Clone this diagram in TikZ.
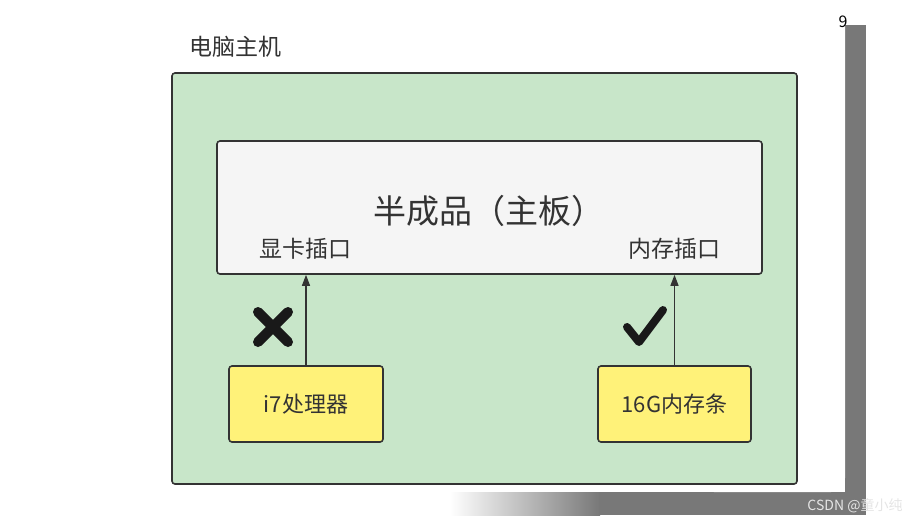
\documentclass[tikz,border=0pt]{standalone}
\usepackage{fontspec}
\setmainfont{Noto Sans CJK SC}
\usetikzlibrary{arrows.meta}
\begin{document}
\begin{tikzpicture}[x=1pt,y=-1pt,
  box/.style={draw=black!80,line width=1.6pt,rounded corners=3pt},
  lbl/.style={font=\fontsize{23}{26}\selectfont,text=black!80},
  conn/.style={draw=black!80,line width=1.3pt,-{Triangle[length=11pt,width=8pt]}}]
\useasboundingbox (0,0) rectangle (919,523);
\fill[white] (0,0) rectangle (919,523);
% shadow
\fill[black!53] (845,25) rectangle (866,515);
\shade[left color=white,right color=black!53] (450,492) rectangle (600,515);
\fill[black!53] (599,492) rectangle (866,515);
\fill[white,rounded corners=14pt] (700,0) rectangle (845,492);
\node[font=\fontsize{16}{18}\selectfont\rmfamily] (nine) at (843,22) {9};
\node[font=\fontsize{14}{16}\selectfont,text=white!90!black] (csdn) at (855,506) {CSDN @童小纯};
% main
\node[lbl,anchor=west] (host) at (186,47) {电脑主机};
\node[box,fill={rgb,255:red,200;green,230;blue,201},minimum width=625pt,minimum height=411pt] (main) at (484.5,278.5) {};
\node[box,fill={rgb,255:red,245;green,245;blue,245},minimum width=545pt,minimum height=133pt] (board) at (489.5,207.5) {};
\node[font=\fontsize{33}{38}\selectfont,text=black!80] (title) at (489,211) {半成品（主板）};
\node[lbl] (gpu) at (305,249) {显卡插口};
\node[lbl] (mem) at (674,249) {内存插口};
\node[box,fill={rgb,255:red,255;green,242;blue,121},minimum width=154pt,minimum height=76pt] (cpu) at (306,404) {};
\node[lbl,font=\fontsize{22}{26}\selectfont] at (cpu) {i7处理器};
\node[box,fill={rgb,255:red,255;green,242;blue,121},minimum width=153pt,minimum height=76pt] (ram) at (674.5,404) {};
\node[lbl,font=\fontsize{22}{26}\selectfont] at (ram) {16G内存条};
\draw[conn] (cpu.north) -- (306,274.8);
\draw[conn] (ram.north) -- (674.5,274.8);
% marks
\node (xm) at (273,327) {};
\draw[line width=10pt,black!90,line cap=round] (258,312) -- (288,342) (288,312) -- (258,342);
\node (ck) at (645,327) {};
\draw[line width=8pt,black!90,line cap=round,line join=round] (627,327) -- (639,342) -- (663,310);
\end{tikzpicture}
\end{document}
